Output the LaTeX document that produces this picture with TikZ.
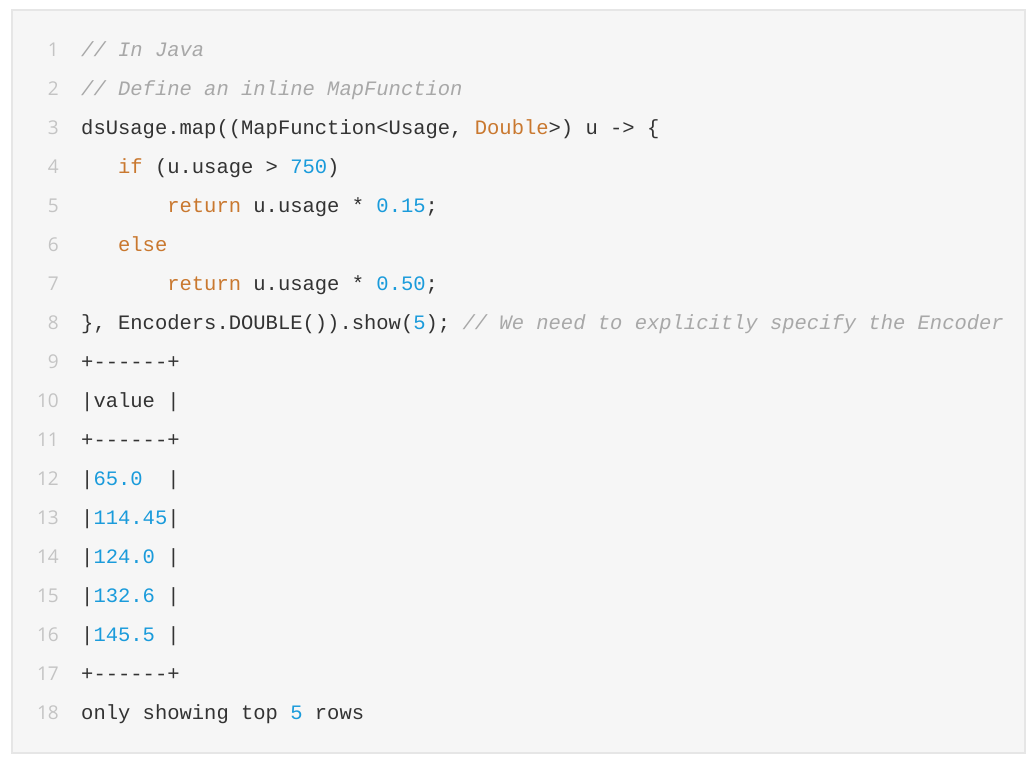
\documentclass[tikz,border=0pt]{standalone}
\usepackage{fontspec}
\setmonofont{Liberation Mono}
\newfontfamily\lnfont{Open Sans}
\definecolor{bgc}{HTML}{F6F6F6}
\definecolor{bdc}{HTML}{E6E6E6}
\definecolor{txc}{HTML}{333333}
\definecolor{kwc}{HTML}{C9782F}
\definecolor{nmc}{HTML}{1A9BDB}
\definecolor{cmc}{HTML}{A8A8A8}
\definecolor{lnc}{HTML}{C4C4C4}
\newcommand\kw[1]{\textcolor{kwc}{#1}}
\newcommand\nm[1]{\textcolor{nmc}{#1}}
\newcommand\cm[1]{\textcolor{cmc}{\itshape #1}}
\tikzset{code/.style={anchor=base west,inner sep=0pt,text=txc,font=\ttfamily\fontsize{20.5}{22}\selectfont},
lnum/.style={anchor=base east,inner sep=0pt,text=lnc,font=\lnfont\fontsize{19}{22}\selectfont}}
\begin{document}
\begin{tikzpicture}[x=1pt,y=1pt]
\useasboundingbox (0,0) rectangle (1035,767);
\fill[white] (0,0) rectangle (1035,767);
\draw[bdc,fill=bgc,line width=1.2pt] (12,14) rectangle (1025,757);
\foreach \i/\t in {
1/{\cm{//~In~Java}},
2/{\cm{//~Define~an~inline~MapFunction}},
3/{dsUsage.map((MapFunction<Usage,~\kw{Double}>)~u~->~\{},
4/{~~~\kw{if}~(u.usage~>~\nm{750})},
5/{~~~~~~~\kw{return}~u.usage~*~\nm{0.15};},
6/{~~~\kw{else}},
7/{~~~~~~~\kw{return}~u.usage~*~\nm{0.50};},
8/{\},~Encoders.DOUBLE()).show(\nm{5});~\cm{//~We~need~to~explicitly~specify~the~Encoder}},
9/{+------+},
10/{|value~|},
11/{+------+},
12/{|\nm{65.0}~~|},
13/{|\nm{114.45}|},
14/{|\nm{124.0}~|},
15/{|\nm{132.6}~|},
16/{|\nm{145.5}~|},
17/{+------+},
18/{only~showing~top~\nm{5}~rows}}{
  \node[lnum] (n\i) at (59,{767-57-39*(\i-1)}) {\i};
  \node[code] (c\i) at (81,{767-57-39*(\i-1)}) {\t};
}
\end{tikzpicture}
\end{document}
